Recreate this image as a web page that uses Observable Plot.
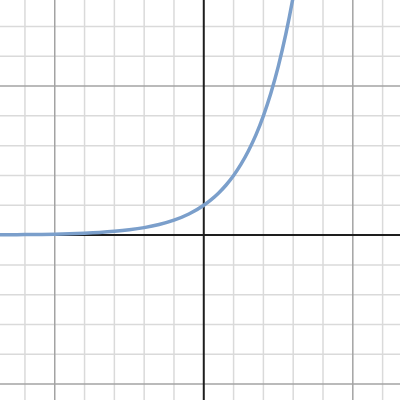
<!DOCTYPE html>
<html>
<head>
<meta charset="utf-8">
<script src="https://cdn.jsdelivr.net/npm/d3@7"></script>
<script src="https://cdn.jsdelivr.net/npm/@observablehq/plot@0.6"></script>
<style>
  html, body { margin: 0; padding: 0; background: #fff; }
</style>
</head>
<body>
<div id="chart"></div>
<script>
// Points (y = 2^x)
const curveX = [-7, -6.5, -6, -5.5, -5, -4.5, -4, -3.5, -3, -2.5, -2, -1.5, -1, -0.5, 0, 0.25, 0.5, 0.75, 1, 1.25, 1.5, 1.75, 2, 2.25, 2.5, 2.75, 3, 3.1];
const curveY = [0.0078, 0.011, 0.0156, 0.022, 0.031, 0.044, 0.0625, 0.088, 0.125, 0.177, 0.25, 0.354, 0.5, 0.707, 1, 1.19, 1.414, 1.68, 2, 2.38, 2.83, 3.36, 4, 4.76, 5.66, 6.73, 8, 8.57];

const minorX = [-6, -4, -3, -2, -1, 1, 2, 3, 4, 6];
const minorY = [-4, -3, -2, -1, 1, 2, 3, 4, 6, 7];
const majorX = [-5, 5];
const majorY = [-5, 5];
const axisVal = [0];

const pts = curveX.map((x, i) => ({x, y: curveY[i]}));

const chart = Plot.plot({
  width: 400,
  height: 400,
  margin: 0,
  x: {domain: [-6.82, 6.6], axis: null},
  y: {domain: [-5.55, 7.87], axis: null},
  style: {background: "#fff"},
  marks: [
    Plot.ruleX(minorX, {stroke: "#dadada", strokeWidth: 1.5}),
    Plot.ruleY(minorY, {stroke: "#dadada", strokeWidth: 1.5}),
    Plot.ruleX(majorX, {stroke: "#a3a3a3", strokeWidth: 1.5}),
    Plot.ruleY(majorY, {stroke: "#a3a3a3", strokeWidth: 1.5}),
    Plot.ruleX(axisVal, {stroke: "#1e1e1e", strokeWidth: 2}),
    Plot.ruleY(axisVal, {stroke: "#1e1e1e", strokeWidth: 2}),
    Plot.line(pts, {x: "x", y: "y", stroke: "#7b9fcb", strokeWidth: 3.5, curve: "monotone-x", clip: true})
  ]
});
document.getElementById("chart").appendChild(chart);
</script>
</body>
</html>
